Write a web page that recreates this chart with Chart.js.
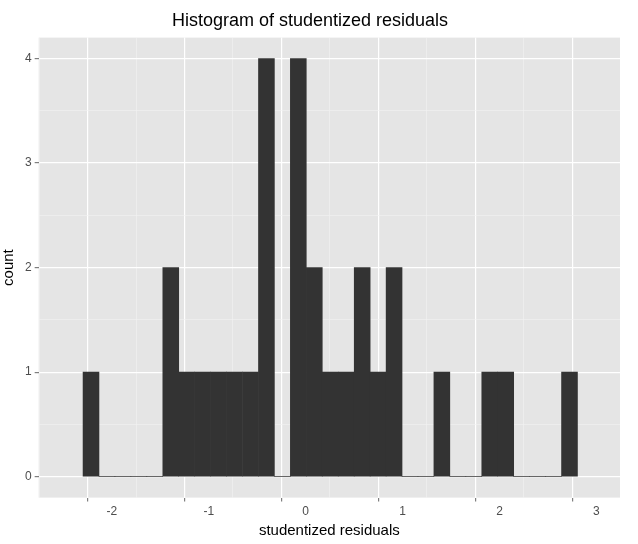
<!DOCTYPE html>
<html><head><meta charset="utf-8">
<script src="https://cdn.jsdelivr.net/npm/chart.js@4/dist/chart.umd.min.js"></script>
<style>html,body{margin:0;padding:0;background:#fff}#w{width:638px;height:544px}</style>
</head><body><div id="w"><canvas id="c"></canvas></div>
<script>
const binCenters = [-2.215,-2.050,-1.886,-1.721,-1.557,-1.392,-1.228,-1.063,-0.898,-0.734,-0.569,-0.405,-0.240,-0.076,0.089,0.253,0.418,0.583,0.747,0.912,1.076,1.241,1.405,1.570,1.735,1.899,2.064,2.228,2.393,2.557,2.722];
const counts = [1,0,0,0,0,2,1,1,1,1,1,4,0,4,2,1,1,2,1,2,0,0,1,0,0,1,1,0,0,0,1];
const xTicks = [-2.5,-2,-1.5,-1,-0.5,0,0.5,1,1.5,2,2.5,3];
const yTicks = [0,0.5,1,1.5,2,2.5,3,3.5,4];
const isMajor = v => Math.abs(v - Math.round(v)) < 1e-9;
const bg = {id:'bg',beforeDraw(ch){const a=ch.chartArea,c=ch.ctx;c.save();c.fillStyle='#E5E5E5';c.fillRect(a.left,a.top,a.right-a.left,a.bottom-a.top);c.restore();}};
const gridOpts = {
  color: ctx => ctx.tick && isMajor(ctx.tick.value) ? '#FFFFFF' : '#F2F2F2',
  lineWidth: ctx => ctx.tick && isMajor(ctx.tick.value) ? 1.2 : 0.6,
  tickColor: ctx => ctx.tick && isMajor(ctx.tick.value) ? '#7F7F7F' : 'rgba(0,0,0,0)',
  tickLength: 4, drawOnChartArea: true
};
new Chart(document.getElementById('c'), {
  type: 'bar',
  data: {datasets: [{data: binCenters.map((x,i)=>({x, y: counts[i]})), backgroundColor:'#333333', barPercentage:1, categoryPercentage:1, borderWidth:0}]},
  options: {
    responsive:true, maintainAspectRatio:false, animation:false,
    layout:{padding:{left:0,right:18,top:0,bottom:0}},
    plugins:{legend:{display:false},tooltip:{enabled:false},
      title:{display:true,text:'Histogram of studentized residuals',color:'#000',font:{family:'Liberation Sans, Arial',size:18,weight:'normal'},padding:{top:10,bottom:6}}},
    scales:{
      x:{type:'linear',min:-2.755,max:3.243,offset:false,
        afterBuildTicks:s=>{s.ticks=xTicks.map(v=>({value:v}));},
        grid:gridOpts,border:{display:false},
        ticks:{autoSkip:false,maxRotation:0,color:'#4D4D4D',font:{family:'Liberation Sans, Arial',size:12},callback:v=>isMajor(v)?String(v):''},
        title:{display:true,text:'studentized residuals',color:'#000',font:{family:'Liberation Sans, Arial',size:15},padding:{top:0,bottom:4}}},
      y:{min:-0.2,max:4.2,
        afterBuildTicks:s=>{s.ticks=yTicks.map(v=>({value:v}));},
        grid:gridOpts,border:{display:false},
        ticks:{autoSkip:false,color:'#4D4D4D',font:{family:'Liberation Sans, Arial',size:12},callback:v=>isMajor(v)?String(v):''},
        title:{display:true,text:'count',color:'#000',font:{family:'Liberation Sans, Arial',size:15},padding:{top:0,bottom:4}}}
    }
  },
  plugins:[bg]
});
</script></body></html>
